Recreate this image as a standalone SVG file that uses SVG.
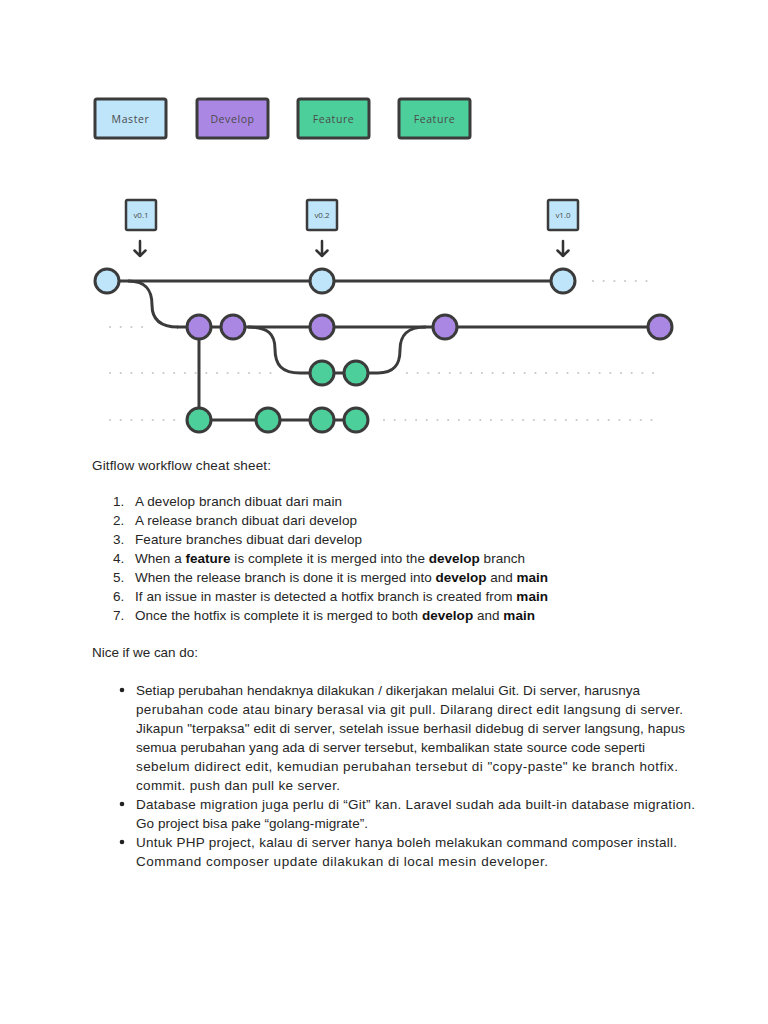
<svg xmlns="http://www.w3.org/2000/svg" width="768" height="1024" viewBox="0 0 768 1024">
<style>
.box{stroke:#3b3b3b;stroke-width:3}
.lbl{font-family:"Open Sans","Liberation Sans",sans-serif;font-size:10.5px;fill:#4a4a4a;letter-spacing:0.6px;text-anchor:middle}
.tag{fill:#bfe5fb;stroke:#3b3b3b;stroke-width:2.5}
.tagt{font-family:"Open Sans","Liberation Sans",sans-serif;font-size:8px;fill:#4a4a4a;text-anchor:middle}
.m{fill:#bfe5fb}
.d{fill:#ab87e4}
.f{fill:#4dcf9b}
.c{stroke:#3b3b3b;stroke-width:3}
.ln{fill:none;stroke:#3b3b3b;stroke-width:3}
.dot{stroke:#c9c9c9;stroke-width:2.2;stroke-linecap:round;stroke-dasharray:0 10.7}
.arr{fill:none;stroke:#333;stroke-width:2.5;stroke-linecap:round;stroke-linejoin:round}
.t{font-family:"Liberation Sans",Arial,sans-serif;font-size:13.5px;fill:#262626}
.b{font-weight:bold;fill:#111}
</style>
<rect width="768" height="1024" fill="#fff"/>

<!-- legend -->
<g id="legend-master"><rect class="box m" x="95" y="99" width="71" height="39" rx="2"/><text class="lbl" x="130.5" y="123">Master</text></g>
<g id="legend-develop"><rect class="box d" x="197" y="99" width="71" height="39" rx="2"/><text class="lbl" x="232.5" y="123">Develop</text></g>
<g id="legend-feature1"><rect class="box f" x="298" y="99" width="71" height="39" rx="2"/><text class="lbl" x="333.5" y="123">Feature</text></g>
<g id="legend-feature2"><rect class="box f" x="399" y="99" width="71" height="39" rx="2"/><text class="lbl" x="434.5" y="123">Feature</text></g>

<!-- tags -->
<g id="tag-v01"><rect class="tag" x="126" y="200" width="30" height="30" rx="1.5"/><text class="tagt" x="141" y="218">v0.1</text></g>
<g id="tag-v02"><rect class="tag" x="307" y="200" width="30" height="30" rx="1.5"/><text class="tagt" x="322" y="218">v0.2</text></g>
<g id="tag-v10"><rect class="tag" x="548" y="200" width="30" height="30" rx="1.5"/><text class="tagt" x="563" y="218">v1.0</text></g>

<!-- connectors -->
<g id="connectors">
  <line class="dot" x1="593" y1="281" x2="650" y2="281"/>
  <line class="dot" x1="110" y1="327" x2="143" y2="327"/>
  <line class="dot" x1="110" y1="373" x2="271" y2="373"/>
  <line class="dot" x1="407" y1="373" x2="654" y2="373"/>
  <line class="dot" x1="110" y1="420" x2="175" y2="420"/>
  <line class="dot" x1="384" y1="420" x2="654" y2="420"/>

  <path class="arr" d="M140 241V256M134.5 250.5L140 256L145.5 250.5"/>
  <path class="arr" d="M322 241V256M316.5 250.5L322 256L327.5 250.5"/>
  <path class="arr" d="M563 241V256M557.5 250.5L563 256L568.5 250.5"/>

  <line class="ln" x1="107" y1="281" x2="563" y2="281"/>
  <path class="ln" d="M128 281C147 281 152 291 152 305C152 319 160 327 178 327"/>
  <line class="ln" x1="177" y1="327" x2="660" y2="327"/>
  <path class="ln" d="M248 327C268 327 275 334 275 349C275 365 282 373 300 373H357"/>
  <path class="ln" d="M357 373H378C394 373 400 365 400 350C400 335 407 327 426 327"/>
  <line class="ln" x1="199" y1="327" x2="199" y2="420"/>
  <line class="ln" x1="199" y1="420" x2="357" y2="420"/>
</g>

<!-- commits -->
<g id="master-commits">
  <circle class="c m" cx="107" cy="281" r="12"/>
  <circle class="c m" cx="322" cy="281" r="12"/>
  <circle class="c m" cx="563" cy="281" r="12"/>
</g>
<g id="develop-commits">
  <circle class="c d" cx="199" cy="327" r="12"/>
  <circle class="c d" cx="233" cy="327" r="12"/>
  <circle class="c d" cx="322" cy="327" r="12"/>
  <circle class="c d" cx="445" cy="327" r="12"/>
  <circle class="c d" cx="660" cy="327" r="12"/>
</g>
<g id="feature1-commits">
  <circle class="c f" cx="322" cy="373" r="12"/>
  <circle class="c f" cx="356" cy="373" r="12"/>
</g>
<g id="feature2-commits">
  <circle class="c f" cx="199" cy="420" r="12"/>
  <circle class="c f" cx="268" cy="420" r="12"/>
  <circle class="c f" cx="322" cy="420" r="12"/>
  <circle class="c f" cx="356" cy="420" r="12"/>
</g>

<!-- text -->
<g id="cheatsheet">
  <text class="t" x="92" y="469.5" textLength="179" lengthAdjust="spacing">Gitflow workflow cheat sheet:</text>
  <text class="t" x="113" y="506">1.</text>
  <text class="t" x="135" y="506" textLength="207" lengthAdjust="spacing">A develop branch dibuat dari main</text>
  <text class="t" x="113" y="525">2.</text>
  <text class="t" x="135" y="525" textLength="222" lengthAdjust="spacing">A release branch dibuat dari develop</text>
  <text class="t" x="113" y="544">3.</text>
  <text class="t" x="135" y="544" textLength="227" lengthAdjust="spacing">Feature branches dibuat dari develop</text>
  <text class="t" x="113" y="563">4.</text>
  <text class="t" x="135" y="563" textLength="390" lengthAdjust="spacing">When a <tspan class="b">feature</tspan> is complete it is merged into the <tspan class="b">develop</tspan> branch</text>
  <text class="t" x="113" y="582">5.</text>
  <text class="t" x="135" y="582" textLength="413" lengthAdjust="spacing">When the release branch is done it is merged into <tspan class="b">develop</tspan> and <tspan class="b">main</tspan></text>
  <text class="t" x="113" y="601">6.</text>
  <text class="t" x="135" y="601" textLength="413" lengthAdjust="spacing">If an issue in master is detected a hotfix branch is created from <tspan class="b">main</tspan></text>
  <text class="t" x="113" y="620">7.</text>
  <text class="t" x="135" y="620" textLength="400" lengthAdjust="spacing">Once the hotfix is complete it is merged to both <tspan class="b">develop</tspan> and <tspan class="b">main</tspan></text>
</g>

<g id="nice">
  <text class="t" x="92" y="657" textLength="106" lengthAdjust="spacing">Nice if we can do:</text>
  <circle cx="122" cy="690" r="2.3" fill="#222"/>
  <circle cx="122" cy="804" r="2.3" fill="#222"/>
  <circle cx="122" cy="842" r="2.3" fill="#222"/>
  <text class="t" x="136" y="694.5" textLength="504" lengthAdjust="spacing">Setiap perubahan hendaknya dilakukan / dikerjakan melalui Git. Di server, harusnya</text>
  <text class="t" x="136" y="713.5" textLength="547" lengthAdjust="spacing">perubahan code atau binary berasal via git pull. Dilarang direct edit langsung di server.</text>
  <text class="t" x="136" y="732.5" textLength="549" lengthAdjust="spacing">Jikapun "terpaksa" edit di server, setelah issue berhasil didebug di server langsung, hapus</text>
  <text class="t" x="136" y="751.5" textLength="509" lengthAdjust="spacing">semua perubahan yang ada di server tersebut, kembalikan state source code seperti</text>
  <text class="t" x="136" y="770.5" textLength="542" lengthAdjust="spacing">sebelum didirect edit, kemudian perubahan tersebut di "copy-paste" ke branch hotfix.</text>
  <text class="t" x="136" y="789.5" textLength="204" lengthAdjust="spacing">commit. push dan pull ke server.</text>
  <text class="t" x="136" y="808.5" textLength="559" lengthAdjust="spacing">Database migration juga perlu di “Git” kan. Laravel sudah ada built-in database migration.</text>
  <text class="t" x="136" y="827.5" textLength="232" lengthAdjust="spacing">Go project bisa pake “golang-migrate”.</text>
  <text class="t" x="136" y="846.5" textLength="541" lengthAdjust="spacing">Untuk PHP project, kalau di server hanya boleh melakukan command composer install.</text>
  <text class="t" x="136" y="865.5" textLength="412" lengthAdjust="spacing">Command composer update dilakukan di local mesin developer.</text>
</g>
</svg>
